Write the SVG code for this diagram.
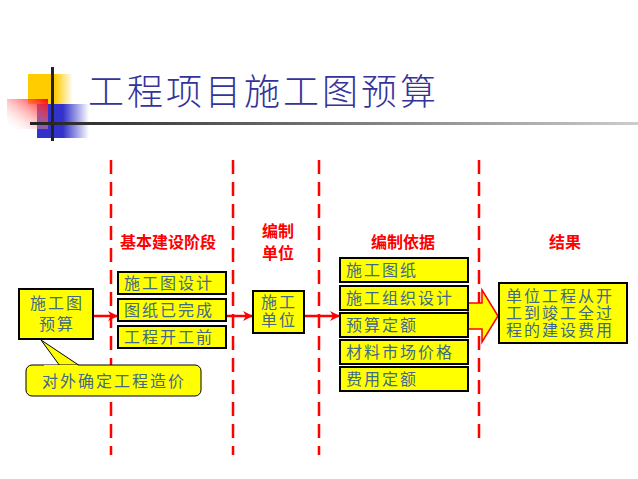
<svg xmlns="http://www.w3.org/2000/svg" width="638" height="479" viewBox="0 0 638 479">
<defs>
<linearGradient id="yg" x1="0" x2="1"><stop offset="0.6" stop-color="#FFCC00"/><stop offset="1" stop-color="#FFCC00" stop-opacity="0"/></linearGradient>
<linearGradient id="bg" x1="0" x2="1"><stop offset="0.5" stop-color="#3333CC"/><stop offset="1" stop-color="#3333CC" stop-opacity="0"/></linearGradient>
<linearGradient id="rg" x1="1" y1="0" x2="0" y2="1"><stop offset="0" stop-color="#FF0000"/><stop offset="1" stop-color="#FFFFFF" stop-opacity="0"/></linearGradient>
<linearGradient id="lg" x1="0" x2="1"><stop offset="0" stop-color="#222"/><stop offset="1" stop-color="#ccc"/></linearGradient>
<marker id="ah" markerWidth="10" markerHeight="10" refX="9" refY="5" orient="auto" markerUnits="userSpaceOnUse"><path d="M0,0 L10,5 L0,10 L3,5 Z" fill="#FF0000"/></marker>
<style>
.bx{fill:#FFFF00;stroke:#000;stroke-width:2}
.t{font-family:"Liberation Sans","Noto Sans CJK SC",sans-serif;font-size:16px;fill:#3F6A8A;letter-spacing:2px}
.h{font-family:"Liberation Sans","Noto Sans CJK SC",sans-serif;font-size:16px;font-weight:bold;fill:#FF0000;text-anchor:middle}
.d{stroke:#FF0000;stroke-width:2.5;stroke-dasharray:14,8;fill:none}
.c{stroke:#FF0000;stroke-width:2.5;fill:none}
</style>
</defs>
<g id="logo">
<rect x="28" y="74" width="45" height="30" fill="url(#yg)"/>
<rect x="37" y="104" width="52" height="34" fill="url(#bg)"/>
<rect x="7" y="99" width="41" height="30" fill="url(#rg)"/>
<rect x="51" y="67" width="3" height="74" fill="#222"/>
<rect x="30" y="122" width="608" height="3" fill="url(#lg)"/>
<text x="88" y="105" font-family="'Noto Sans CJK SC',sans-serif" font-size="36" font-weight="300" letter-spacing="3" fill="#333399">工程项目施工图预算</text>
</g>
<g id="connectors">
<line class="d" x1="111" y1="160" x2="111" y2="455"/>
<line class="d" x1="233" y1="160" x2="233" y2="455"/>
<line class="d" x1="319" y1="160" x2="319" y2="455"/>
<line class="d" x1="479" y1="160" x2="479" y2="445"/>
<line class="c" x1="93" y1="316" x2="117" y2="316" marker-end="url(#ah)"/>
<line class="c" x1="226" y1="316" x2="252" y2="316" marker-end="url(#ah)"/>
<line class="c" x1="304" y1="316" x2="339" y2="316" marker-end="url(#ah)"/>
<path d="M468,303 H482 V290 L498,316 L482,342 V329 H468 Z" fill="#FFFF00" stroke="#FF0000" stroke-width="1.5"/>
</g>
<g id="headers">
<text class="h" x="168" y="248">基本建设阶段</text>
<text class="h" x="278" y="237">编制</text>
<text class="h" x="278" y="259">单位</text>
<text class="h" x="403" y="248">编制依据</text>
<text class="h" x="565" y="248">结果</text>
</g>
<g id="n1"><rect class="bx" x="19" y="289" width="74" height="50"/><text class="t" x="57" y="309" text-anchor="middle">施工图</text><text class="t" x="57" y="330" text-anchor="middle">预算</text></g>
<g id="callout"><path d="M41,340 L80,366 L60,366 Z" fill="#FFFF00" stroke="#000" stroke-width="1"/><rect x="26" y="365" width="175" height="31" rx="6" fill="#FFFF00" stroke="#000" stroke-width="1"/><path d="M44,366 L78,366" stroke="#FFFF00" stroke-width="2"/><text class="t" x="114" y="387" text-anchor="middle">对外确定工程造价</text></g>
<g id="n2"><rect class="bx" x="118" y="272" width="108" height="22"/><text class="t" x="124" y="289">施工图设计</text></g>
<g id="n3"><rect class="bx" x="118" y="299" width="108" height="22"/><text class="t" x="124" y="316">图纸已完成</text></g>
<g id="n4"><rect class="bx" x="118" y="326" width="108" height="22"/><text class="t" x="124" y="343">工程开工前</text></g>
<g id="n5"><rect class="bx" x="253" y="291" width="51" height="42"/><text class="t" x="279" y="308" text-anchor="middle">施工</text><text class="t" x="279" y="326" text-anchor="middle">单位</text></g>
<g id="n6"><rect class="bx" x="340" y="258" width="128" height="24"/><text class="t" x="346" y="276">施工图纸</text></g>
<g id="n7"><rect class="bx" x="340" y="286" width="128" height="24"/><text class="t" x="346" y="304">施工组织设计</text></g>
<g id="n8"><rect class="bx" x="340" y="313" width="128" height="24"/><text class="t" x="346" y="331">预算定额</text></g>
<g id="n9"><rect class="bx" x="340" y="340" width="128" height="24"/><text class="t" x="346" y="358">材料市场价格</text></g>
<g id="n10"><rect class="bx" x="340" y="367" width="128" height="24"/><text class="t" x="346" y="385">费用定额</text></g>
<g id="n11"><rect class="bx" x="499" y="283" width="128" height="60"/><text class="t" x="506" y="302" letter-spacing="1">单位工程从开</text><text class="t" x="506" y="319" letter-spacing="1">工到竣工全过</text><text class="t" x="506" y="336" letter-spacing="1">程的建设费用</text></g>
</svg>
